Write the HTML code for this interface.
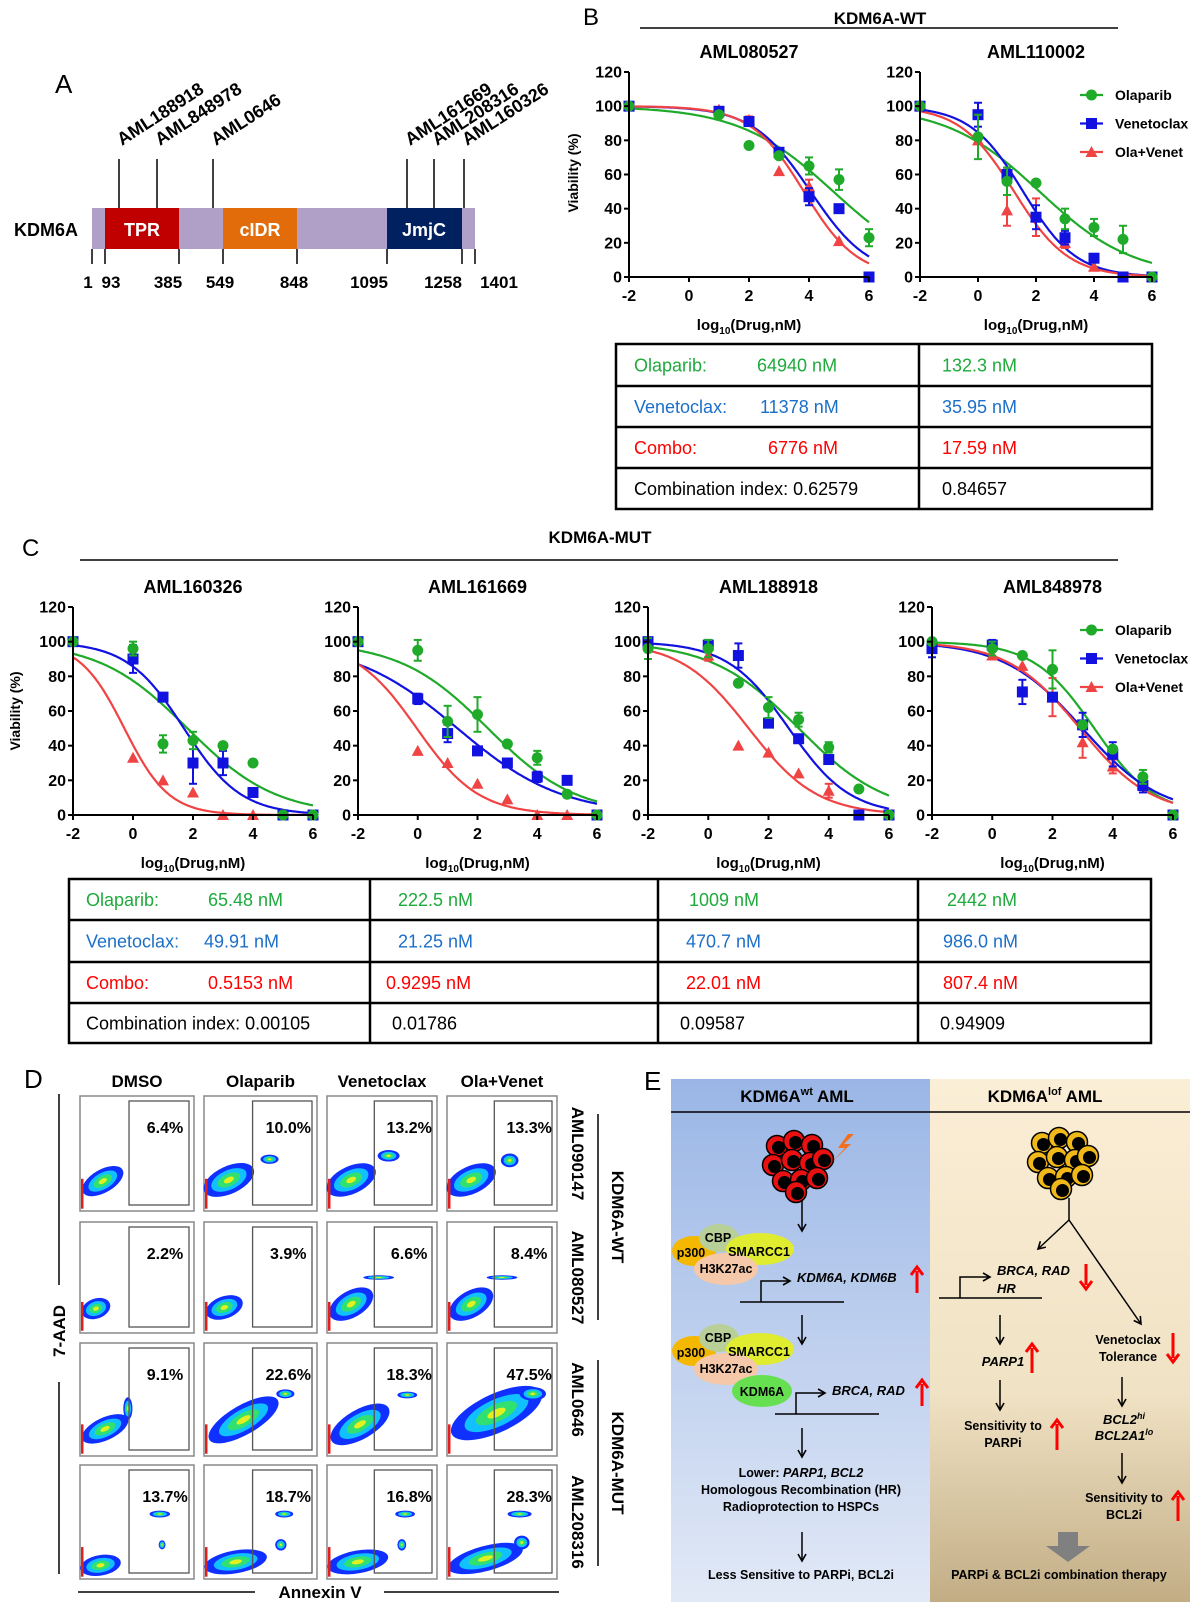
<!DOCTYPE html>
<html><head><meta charset="utf-8"><style>
html,body{margin:0;padding:0;background:#fff}
svg{display:block}
text{font-family:"Liberation Sans",Arial,sans-serif}
.b{font-weight:bold}
</style></head><body>
<svg id="fig" width="1200" height="1602" viewBox="0 0 1200 1602" xmlns="http://www.w3.org/2000/svg">
<defs>
<linearGradient id="gBlue" x1="0" y1="0" x2="0" y2="1"><stop offset="0" stop-color="#9ab6e6"/><stop offset="1" stop-color="#e2e9f6"/></linearGradient>
<linearGradient id="gTan" x1="0" y1="0" x2="0" y2="1"><stop offset="0" stop-color="#fbeed6"/><stop offset="0.6" stop-color="#f0e2c4"/><stop offset="1" stop-color="#c2ad85"/></linearGradient>
<marker id="ah" markerWidth="10" markerHeight="10" refX="8" refY="5" orient="auto" markerUnits="userSpaceOnUse"><path d="M1,1 L8,5 L1,9" fill="none" stroke="#000" stroke-width="1.6"/></marker>
</defs>

<!-- PANEL A -->
<g>
<text x="55" y="93" font-size="26">A</text>
<text x="78" y="236" font-size="18" class="b" text-anchor="end">KDM6A</text>
<rect x="92" y="208" width="383" height="41" fill="#b0a0c8"/>
<rect x="105" y="208" width="74" height="41" fill="#c00000"/>
<rect x="223" y="208" width="74" height="41" fill="#e36c0a"/>
<rect x="387" y="208" width="75" height="41" fill="#002060"/>
<text x="142" y="236" font-size="18" class="b" fill="#fff" text-anchor="middle">TPR</text>
<text x="260" y="236" font-size="18" class="b" fill="#fff" text-anchor="middle">cIDR</text>
<text x="424" y="236" font-size="18" class="b" fill="#fff" text-anchor="middle">JmjC</text>
<g id="aLines"></g>
</g>

<!-- PANEL B headers -->
<text x="583" y="25" font-size="24">B</text>
<text x="880" y="24" font-size="17" class="b" text-anchor="middle">KDM6A-WT</text>
<line x1="640" y1="28" x2="1118" y2="28" stroke="#000" stroke-width="1.5"/>
<!-- PANEL C headers -->
<text x="22" y="556" font-size="24">C</text>
<text x="600" y="543" font-size="17" class="b" text-anchor="middle">KDM6A-MUT</text>
<line x1="80" y1="560" x2="1118" y2="560" stroke="#000" stroke-width="1.5"/>

<g id="charts"></g>
<g id="tables"></g>

<!-- PANEL D -->
<g id="panelD">
<text x="24" y="1088" font-size="26">D</text>
</g>

<!-- PANEL E -->
<g id="panelE">
<text x="644" y="1090" font-size="26">E</text>
<rect x="671" y="1079" width="259" height="523" fill="url(#gBlue)"/>
<rect x="930" y="1079" width="260" height="523" fill="url(#gTan)"/>
<line x1="671" y1="1112" x2="1190" y2="1112" stroke="#000" stroke-width="1.5"/>
<text x="797" y="1102" font-size="17" class="b" text-anchor="middle">KDM6A<tspan font-size="11" dy="-7">wt</tspan><tspan dy="7"> AML</tspan></text>
<text x="1045" y="1102" font-size="17" class="b" text-anchor="middle">KDM6A<tspan font-size="11" dy="-7">lof</tspan><tspan dy="7"> AML</tspan></text>
<g id="cellsRed"></g>
<g id="cellsYel"></g>
<path d="M848,1134 L838,1148 L845,1148 L832,1162 L851,1144 L844,1144 L854,1134 Z" fill="#f07020"/>
<g stroke="#000" stroke-width="1.5" fill="none">
<line x1="802" y1="1201" x2="802" y2="1231" marker-end="url(#ah)"/>
<line x1="802" y1="1315" x2="802" y2="1344" marker-end="url(#ah)"/>
<line x1="802" y1="1428" x2="802" y2="1457" marker-end="url(#ah)"/>
<line x1="802" y1="1532" x2="802" y2="1561" marker-end="url(#ah)"/>
<line x1="740" y1="1302" x2="844" y2="1302"/><polyline points="761,1302 761,1281 790,1281" marker-end="url(#ah)"/>
<line x1="775" y1="1414" x2="879" y2="1414"/><polyline points="796,1414 796,1393 825,1393" marker-end="url(#ah)"/>
<line x1="1069" y1="1198" x2="1069" y2="1220"/>
<line x1="1069" y1="1220" x2="1038" y2="1249" marker-end="url(#ah)"/>
<line x1="1069" y1="1220" x2="1141" y2="1324" marker-end="url(#ah)"/>
<line x1="939" y1="1298" x2="1042" y2="1298"/><polyline points="960,1298 960,1277 990,1277" marker-end="url(#ah)"/>
<line x1="1000" y1="1315" x2="1000" y2="1344" marker-end="url(#ah)"/>
<line x1="1000" y1="1380" x2="1000" y2="1410" marker-end="url(#ah)"/>
<line x1="1122" y1="1377" x2="1122" y2="1406" marker-end="url(#ah)"/>
<line x1="1122" y1="1453" x2="1122" y2="1483" marker-end="url(#ah)"/>
</g>
<g id="ellipses"></g>
<g font-size="13" class="b" font-style="italic">
<text x="797" y="1282">KDM6A, KDM6B</text>
<text x="832" y="1395">BRCA, RAD</text>
<text x="997" y="1275">BRCA, RAD</text>
<text x="997" y="1293">HR</text>
<text x="1003" y="1366" text-anchor="middle">PARP1</text>
<text x="1124" y="1424" text-anchor="middle">BCL2<tspan font-size="9" dy="-5">hi</tspan></text>
<text x="1124" y="1440" text-anchor="middle">BCL2A1<tspan font-size="9" dy="-5">lo</tspan></text>
</g>
<g font-size="12.5" class="b" text-anchor="middle">
<text x="801" y="1477">Lower: <tspan font-style="italic">PARP1, BCL2</tspan></text>
<text x="801" y="1494">Homologous Recombination (HR)</text>
<text x="801" y="1511">Radioprotection to HSPCs</text>
<text x="801" y="1579">Less Sensitive to PARPi, BCL2i</text>
<text x="1003" y="1430">Sensitivity to</text>
<text x="1003" y="1447">PARPi</text>
<text x="1128" y="1344">Venetoclax</text>
<text x="1128" y="1361">Tolerance</text>
<text x="1124" y="1502">Sensitivity to</text>
<text x="1124" y="1519">BCL2i</text>
<text x="1059" y="1579">PARPi &amp; BCL2i combination therapy</text>
</g>
<path d="M1058,1532 h20 v14 h12 l-22,16 l-22,-16 h12 z" fill="#808080"/>
<g id="redArrows"></g>
</g>
</svg>

<script>
// ---------------- DATA ----------------
const xB1 = [-2,1,2,3,4,5,6];
const xStd = [-2,0,1,2,3,4,5,6];
// B1 AML080527
const olaB1=[100,95,77,71,65,57,23], olaB1e=[0,0,0,0,5,6,5];
const venB1=[100,97,91,73,47,40,0], venB1e=[0,2,0,0,5,0,0];
const comB1=[100,98,92,62,53,21,null], comB1e=[0,0,2,0,4,0,0];
// B2 AML110002
const olaB2=[100,82,56,55,34,29,22,0], olaB2e=[0,13,8,0,6,5,8,0];
const venB2=[100,95,60,35,23,11,0,0], venB2e=[0,7,4,7,4,0,0,0];
const comB2=[100,80,39,35,20,6,0,0], comB2e=[0,0,9,11,3,0,0,0];
// C1 AML160326
const olaC1=[100,96,41,43,40,30,0,0], olaC1e=[0,4,5,5,0,0,0,0];
const venC1=[100,90,68,30,30,13,0,0], venC1e=[0,8,0,12,7,0,0,0];
const comC1=[null,33,20,13,0,0,null,null], comC1e=[0,0,0,0,0,0,0,0];
// C2 AML161669
const olaC2=[100,95,54,58,41,33,12,0], olaC2e=[0,6,9,10,0,4,0,0];
const venC2=[100,67,47,37,30,22,20,0], venC2e=[0,3,5,0,0,3,0,0];
const comC2=[null,37,30,18,9,0,0,null], comC2e=[0,0,0,0,0,0,0,0];
// C3 AML188918
const olaC3=[96,96,76,62,55,39,15,0], olaC3e=[6,5,0,6,4,3,0,0];
const venC3=[100,98,92,53,44,32,0,0], venC3e=[0,3,7,0,0,0,0,0];
const comC3=[null,92,40,36,24,14,null,null], comC3e=[0,3,0,0,0,4,0,0];
// C4 AML848978
const olaC4=[100,96,92,84,52,38,22,0], olaC4e=[0,4,0,11,0,0,4,0];
const venC4=[96,98,71,68,52,35,17,0], venC4e=[5,3,7,0,7,7,4,0];
const comC4=[null,92,86,68,42,28,18,null], comC4e=[0,0,0,11,9,4,0,0];
// IC50 (nM) per chart [ola, ven, combo] and hill slopes
const ic50B1=[64940,11378,6776], hillB1=[0.275,0.446,0.49];
const ic50B2=[132.3,35.95,17.59], hillB2=[0.27,0.475,0.465];
const ic50C1=[65.48,49.91,0.5153], hillC1=[0.295,0.457,0.586];
const ic50C2=[222.5,21.25,0.9295], hillC2=[0.294,0.248,0.42];
const ic50C3=[1009,470.7,22.01], hillC3=[0.3,0.427,0.383];
const ic50C4=[2442,986.0,807.4], hillC4=[0.43,0.334,0.364];
const ciB=["0.62579","0.84657"];
const ciC=["0.00105","0.01786","0.09587","0.94909"];
const xTicks=[-2,0,2,4,6];
const yTicks=[0,20,40,60,80,100,120];
const seriesNames=["Olaparib","Venetoclax","Ola+Venet"];

const NS="http://www.w3.org/2000/svg";
function mk(tag,attrs,parent){const e=document.createElementNS(NS,tag);for(const k in attrs)e.setAttribute(k,attrs[k]);if(parent)parent.appendChild(e);return e;}
const colors=["#1faa2a","#1212e0","#f04444"];

function marker(g,type,cx,cy,col){
  let m;
  if(type===0) m=mk('circle',{cx:cx,cy:cy,r:5.5,fill:col},g);
  else if(type===1) m=mk('rect',{x:cx-5.5,y:cy-5.5,width:11,height:11,fill:col},g);
  else m=mk('polygon',{points:`${cx},${cy-6} ${cx+6},${cy+5} ${cx-6},${cy+5}`,fill:col},g);
  
  
  return m;
}

function drawChart(cfg){
  const root=document.getElementById('charts');
  const g=mk('g',{},root);
  
  
  const sx=v=>cfg.x0+(v+2)/8*(cfg.x1-cfg.x0);
  const sy=v=>cfg.yb-(v/120)*(cfg.yb-cfg.yt);
  const t=mk('text',{x:(cfg.x0+cfg.x1)/2,y:cfg.yt-14,'font-size':18,'font-weight':'bold','text-anchor':'middle'},g);
  t.textContent=cfg.title;
  
  
  for(let s=0;s<3;s++){
    const lic=Math.log10(cfg.ic50[s]),h=cfg.hill[s];
    let pts=[];
    for(let x=-2;x<=6.0001;x+=0.05){const y=100/(1+Math.pow(10,(x-lic)*h));pts.push(sx(x).toFixed(1)+','+sy(y).toFixed(1));}
    const pl=mk('polyline',{points:pts.join(' '),fill:'none',stroke:colors[s],'stroke-width':2.2},g);
    
    
  }
  [2,1,0].forEach(s=>{
    const vals=cfg.vals[s],errs=cfg.errs[s];
    vals.forEach((v,i)=>{
      if(v===null)return;
      const cx=sx(cfg.xs[i]),cy=sy(v),e=errs[i];
      if(e>0){
        const eg=mk('g',{stroke:colors[s],'stroke-width':2},g);
        
        
        mk('line',{x1:cx,y1:sy(v+e),x2:cx,y2:sy(Math.max(0,v-e))},eg);
        mk('line',{x1:cx-4,y1:sy(v+e),x2:cx+4,y2:sy(v+e)},eg);
        mk('line',{x1:cx-4,y1:sy(Math.max(0,v-e)),x2:cx+4,y2:sy(Math.max(0,v-e))},eg);
      }
      marker(g,s,cx,cy,colors[s]);
    });
  });
  const ax=mk('g',{stroke:'#000','stroke-width':2},g);
  
  
  mk('line',{x1:cfg.x0,y1:cfg.yt,x2:cfg.x0,y2:cfg.yb},ax);
  mk('line',{x1:cfg.x0,y1:cfg.yb,x2:cfg.x1,y2:cfg.yb},ax);
  yTicks.forEach(v=>{
    mk('line',{x1:cfg.x0-5,y1:sy(v),x2:cfg.x0,y2:sy(v)},ax);
    const tt=mk('text',{x:cfg.x0-7,y:sy(v)+5.5,'font-size':16,'font-weight':'bold','text-anchor':'end',stroke:'none'},g);
    tt.textContent=v;
    
    
  });
  xTicks.forEach(v=>{
    mk('line',{x1:sx(v),y1:cfg.yb,x2:sx(v),y2:cfg.yb+5},ax);
    const tt=mk('text',{x:sx(v),y:cfg.yb+24,'font-size':16,'font-weight':'bold','text-anchor':'middle'},g);
    tt.textContent=v;
    
    
  });
  const xl=mk('text',{x:(cfg.x0+cfg.x1)/2,y:cfg.yb+53,'font-size':15,'font-weight':'bold','text-anchor':'middle'},g);
  xl.innerHTML='log<tspan font-size="10" dy="4">10</tspan><tspan dy="-4">(Drug,nM)</tspan>';
  
  
  if(cfg.ylab){
    const yl=mk('text',{x:0,y:0,'font-size':14,'font-weight':'bold','text-anchor':'middle',transform:`translate(${cfg.ylab[0]},${cfg.ylab[1]}) rotate(-90)`},g);
    yl.textContent='Viability (%)';
    
    
  }
  if(cfg.legend){
    seriesNames.forEach((n,s)=>{
      const ly=cfg.legend[1]+s*28.5;
      const lg=mk('g',{},g);
      
      
      mk('line',{x1:cfg.legend[0],y1:ly,x2:cfg.legend[0]+23,y2:ly,stroke:colors[s],'stroke-width':2.2},lg);
      marker(lg,s,cfg.legend[0]+11.5,ly,colors[s]);
      const lt=mk('text',{x:cfg.legend[0]+35,y:ly+5,'font-size':14,'font-weight':'bold'},lg);
      lt.textContent=n;
    });
  }
}

drawChart({name:'chart-aml080527',title:'AML080527',x0:629,x1:869,yb:277,yt:72,xs:xB1,vals:[olaB1,venB1,comB1],errs:[olaB1e,venB1e,comB1e],ic50:ic50B1,hill:hillB1,ylab:[578,173]});
drawChart({name:'chart-aml110002',title:'AML110002',x0:920,x1:1152,yb:277,yt:72,xs:xStd,vals:[olaB2,venB2,comB2],errs:[olaB2e,venB2e,comB2e],ic50:ic50B2,hill:hillB2,legend:[1080,95]});
drawChart({name:'chart-aml160326',title:'AML160326',x0:73,x1:313,yb:815,yt:607,xs:xStd,vals:[olaC1,venC1,comC1],errs:[olaC1e,venC1e,comC1e],ic50:ic50C1,hill:hillC1,ylab:[20,711]});
drawChart({name:'chart-aml161669',title:'AML161669',x0:358,x1:597,yb:815,yt:607,xs:xStd,vals:[olaC2,venC2,comC2],errs:[olaC2e,venC2e,comC2e],ic50:ic50C2,hill:hillC2});
drawChart({name:'chart-aml188918',title:'AML188918',x0:648,x1:889,yb:815,yt:607,xs:xStd,vals:[olaC3,venC3,comC3],errs:[olaC3e,venC3e,comC3e],ic50:ic50C3,hill:hillC3});
drawChart({name:'chart-aml848978',title:'AML848978',x0:932,x1:1173,yb:815,yt:607,xs:xStd,vals:[olaC4,venC4,comC4],errs:[olaC4e,venC4e,comC4e],ic50:ic50C4,hill:hillC4,legend:[1080,630]});

// ---------- TABLES ----------
const tg=document.getElementById('tables');
const tcol=["#1faa3c","#1c6fc8","#ff0000","#000"];
function fmt(v){return v+' nM';}
function table(name,x0,x1,divs,rows,cells){
  const g=mk('g',{},tg);
  
  
  mk('rect',{x:x0,y:rows[0],width:x1-x0,height:rows[rows.length-1]-rows[0],fill:'none',stroke:'#000','stroke-width':2.5},g);
  rows.slice(1,-1).forEach(y=>mk('line',{x1:x0,y1:y,x2:x1,y2:y,stroke:'#000','stroke-width':2.5},g));
  divs.forEach(x=>mk('line',{x1:x,y1:rows[0],x2:x,y2:rows[rows.length-1],stroke:'#000','stroke-width':2.5},g));
  cells.forEach(c=>{
    const t=mk('text',{x:c[0],y:(rows[c[1]]+rows[c[1]+1])/2+6.5,'font-size':18,fill:tcol[c[1]]},g);
    t.textContent=c[2];
    
    
  });
}
const rowLabels=["Olaparib:","Venetoclax:","Combo:"];
const cB=[[634,0,rowLabels[0]],[634,1,rowLabels[1]],[634,2,rowLabels[2]],[634,3,'Combination index:  '+ciB[0]],
 [757,0,fmt(ic50B1[0])],[760,1,fmt(ic50B1[1])],[768,2,fmt(ic50B1[2])],
 [942,0,fmt(ic50B2[0])],[942,1,fmt(ic50B2[1])],[942,2,fmt(ic50B2[2])],[942,3,ciB[1]]];
table('table-b',616,1152,[919],[344,386,427,468,509],cB);
const cC=[[86,0,rowLabels[0]],[86,1,rowLabels[1]],[86,2,rowLabels[2]],[86,3,'Combination index:  '+ciC[0]],
 [208,0,fmt(ic50C1[0])],[204,1,fmt(ic50C1[1])],[208,2,fmt(ic50C1[2])],
 [398,0,fmt(ic50C2[0])],[398,1,fmt(ic50C2[1])],[386,2,fmt(ic50C2[2])],[392,3,ciC[1]],
 [689,0,fmt(ic50C3[0])],[686,1,fmt(ic50C3[1])],[686,2,fmt(ic50C3[2])],[680,3,ciC[2]],
 [947,0,fmt(ic50C4[0])],[943,1,fmt('986.0')],[943,2,fmt(ic50C4[2])],[940,3,ciC[3]]];
table('table-c',69,1151,[370,658,918],[879,920,962,1003,1043],cC);

// ---------- PANEL A ----------
const aL=document.getElementById('aLines');
const muts=[["AML188918",119],["AML848978",157],["AML0646",213],["AML161669",407],["AML208316",434],["AML160326",464]];
muts.forEach(m=>{
  mk('line',{x1:m[1],y1:159,x2:m[1],y2:208,stroke:'#000','stroke-width':1.5},aL);
  const t=mk('text',{x:0,y:0,'font-size':18,'font-weight':'bold',transform:`translate(${m[1]+3},146) rotate(-33)`},aL);
  t.textContent=m[0];
  
  
});
[92,105,179,223,297,387,462,475].forEach(x=>mk('line',{x1:x,y1:249,x2:x,y2:264,stroke:'#000','stroke-width':1.5},aL));
[["1",88],["93",111],["385",168],["549",220],["848",294],["1095",369],["1258",443],["1401",499]].forEach(n=>{
  const t=mk('text',{x:n[1],y:288,'font-size':17,'font-weight':'bold','text-anchor':'middle'},aL);t.textContent=n[0];
});

// ---------- PANEL D ----------
const pd=document.getElementById('panelD');
const colX=[[80,194],[204,317],[327,437],[447,557]];
const rowY=[[1096,1211],[1222,1333],[1343,1456],[1465,1579]];
const colNames=["DMSO","Olaparib","Venetoclax","Ola+Venet"];
const pcts=[["6.4%","10.0%","13.2%","13.3%"],["2.2%","3.9%","6.6%","8.4%"],["9.1%","22.6%","18.3%","47.5%"],["13.7%","18.7%","16.8%","28.3%"]];
const mains=[[[0.2,0.74,0.2,0.1,-30],[0.22,0.73,0.24,0.12,-25],[0.22,0.73,0.24,0.12,-25],[0.22,0.73,0.24,0.12,-25]],
 [[0.14,0.78,0.13,0.09,-20],[0.18,0.77,0.17,0.1,-20],[0.22,0.74,0.22,0.12,-30],[0.22,0.74,0.22,0.12,-30]],
 [[0.22,0.76,0.22,0.1,-25],[0.35,0.68,0.35,0.13,-30],[0.3,0.72,0.3,0.13,-30],[0.45,0.62,0.45,0.17,-25]],
 [[0.18,0.88,0.18,0.09,-10],[0.28,0.85,0.28,0.1,-10],[0.28,0.85,0.28,0.1,-10],[0.35,0.82,0.35,0.11,-15]]];
const extras=[[[],[[0.58,0.55,0.08,0.04]],[[0.56,0.52,0.1,0.05]],[[0.57,0.56,0.08,0.06]]],
 [[],[],[[0.47,0.5,0.14,0.02]],[[0.5,0.5,0.14,0.02]]],
 [[[0.42,0.58,0.04,0.1]],[[0.72,0.45,0.08,0.04]],[[0.73,0.46,0.09,0.03]],[[0.78,0.45,0.12,0.06]]],
 [[[0.7,0.43,0.09,0.03],[0.72,0.7,0.03,0.04]],[[0.71,0.43,0.08,0.03],[0.68,0.7,0.05,0.05]],[[0.71,0.43,0.09,0.03],[0.68,0.7,0.04,0.05]],[[0.66,0.43,0.11,0.03],[0.68,0.68,0.07,0.06]]]];
colNames.forEach((n,c)=>{const t=mk('text',{x:(colX[c][0]+colX[c][1])/2,y:1087,'font-size':17,'font-weight':'bold','text-anchor':'middle'},pd);t.textContent=n;
 
 });
function blob(g,cx,cy,rx,ry,ang){
  const cols=["#1030ff","#10c0ff","#30e070","#e0f020"];
  const sc=[1,0.7,0.45,0.2];
  cols.forEach((c,i)=>mk('ellipse',{cx:cx,cy:cy,rx:rx*sc[i],ry:ry*sc[i],fill:c,transform:`rotate(${ang} ${cx} ${cy})`},g));
}
for(let r=0;r<4;r++)for(let c=0;c<4;c++){
  const x0=colX[c][0],x1=colX[c][1],y0=rowY[r][0],y1=rowY[r][1],w=x1-x0,h=y1-y0;
  const g=mk('g',{},pd);
  
  
  mk('rect',{x:x0,y:y0,width:w,height:h,fill:'#fff',stroke:'#888','stroke-width':1.5},g);
  const m=mains[r][c];
  blob(g,x0+m[0]*w,y0+m[1]*h,m[2]*w,m[3]*h,m[4]);
  extras[r][c].forEach(e=>blob(g,x0+e[0]*w,y0+e[1]*h,e[2]*w,e[3]*h,0));
  mk('rect',{x:x0+1,y:y0+0.72*h,width:2.5,height:0.26*h,fill:'#e02020'},g);
  const gx=x0+0.43*w,gy=y0+5;
  mk('rect',{x:gx,y:gy,width:x1-5-gx,height:h-11,fill:'none',stroke:'#555','stroke-width':1.3},g);
  const t=mk('text',{x:(gx+x1-5)/2+6,y:y0+37,'font-size':16,'font-weight':'bold','text-anchor':'middle'},g);
  t.textContent=pcts[r][c];
}
const sideNames=["AML090147","AML080527","AML0646","AML208316"];
sideNames.forEach((n,r)=>{const cy=(rowY[r][0]+rowY[r][1])/2;
 const t=mk('text',{x:0,y:0,'font-size':17,'font-weight':'bold','text-anchor':'middle',transform:`translate(572,${cy}) rotate(90)`},pd);t.textContent=n;});
[["KDM6A-WT",1114,1320],["KDM6A-MUT",1360,1566]].forEach(a=>{
 mk('line',{x1:598,y1:a[1],x2:598,y2:a[2],stroke:'#000','stroke-width':1.5},pd);
 const t=mk('text',{x:0,y:0,'font-size':17,'font-weight':'bold','text-anchor':'middle',transform:`translate(612,${(a[1]+a[2])/2}) rotate(90)`},pd);t.textContent=a[0];});
mk('line',{x1:59,y1:1094,x2:59,y2:1285,stroke:'#000','stroke-width':1.5},pd);
mk('line',{x1:59,y1:1382,x2:59,y2:1574,stroke:'#000','stroke-width':1.5},pd);
{const t=mk('text',{x:0,y:0,'font-size':17,'font-weight':'bold','text-anchor':'middle',transform:'translate(65,1331) rotate(-90)'},pd);t.textContent='7-AAD';}
mk('line',{x1:78,y1:1592,x2:255,y2:1592,stroke:'#000','stroke-width':1.5},pd);
mk('line',{x1:384,y1:1592,x2:559,y2:1592,stroke:'#000','stroke-width':1.5},pd);
{const t=mk('text',{x:320,y:1598,'font-size':17,'font-weight':'bold','text-anchor':'middle'},pd);t.textContent='Annexin V';}

// ---------- PANEL E decorations ----------
function cluster(id,cx,cy,fillc){
  const g=document.getElementById(id);
  const offs=[[-20,-17],[-3,-22],[15,-18],[-24,2],[-5,-3],[13,0],[26,-4],[-14,18],[4,17],[20,15],[-1,29]];
  offs.forEach(o=>{mk('circle',{cx:cx+o[0],cy:cy+o[1],r:10.5,fill:fillc,stroke:'#000','stroke-width':1.5},g);
    mk('circle',{cx:cx+o[0]+1.5,cy:cy+o[1]+1.5,r:6.5,fill:'#000'},g);});
}
cluster('cellsRed',797,1163,'#e81010');
cluster('cellsYel',1062,1160,'#f0b818');
const eg=document.getElementById('ellipses');
function complex(y0,withK){
  mk('ellipse',{cx:694,cy:y0+13,rx:22,ry:15,fill:'#f5b800'},eg);
  mk('ellipse',{cx:719,cy:y0,rx:20,ry:14,fill:'#b8cf98'},eg);
  mk('ellipse',{cx:760,cy:y0+11,rx:34,ry:16,fill:'#e0ec30'},eg);
  mk('ellipse',{cx:726,cy:y0+31,rx:32,ry:16,fill:'#f4c8a8'},eg);
  if(withK) mk('ellipse',{cx:762,cy:y0+53,rx:30,ry:16,fill:'#66e050'},eg);
  [["CBP",718,y0+4],["p300",691,y0+19],["SMARCC1",759,y0+18],["H3K27ac",726,y0+35]].forEach(l=>{
    const t=mk('text',{x:l[1],y:l[2],'font-size':12.5,'font-weight':'bold','text-anchor':'middle'},eg);t.textContent=l[0];});
  if(withK){const t=mk('text',{x:762,y:y0+58,'font-size':12.5,'font-weight':'bold','text-anchor':'middle'},eg);t.textContent='KDM6A';}
}
complex(1238,false);
complex(1338,true);
const ra=document.getElementById('redArrows');
function redArrow(x,y1,y2){
  const up=y2<y1;const tip=y2;const d=up?8:-8;
  mk('line',{x1:x,y1:y1,x2:x,y2:tip+(up?4:-4),stroke:'#ff0000','stroke-width':3},ra);
  mk('polyline',{points:`${x-6},${tip+d} ${x},${tip} ${x+6},${tip+d}`,fill:'none',stroke:'#ff0000','stroke-width':3},ra);
}
redArrow(917,1293,1267);redArrow(922,1406,1380);redArrow(1086,1264,1289);
redArrow(1032,1373,1344);redArrow(1057,1450,1420);redArrow(1173,1333,1362);redArrow(1178,1521,1492);
</script>
</body></html>
